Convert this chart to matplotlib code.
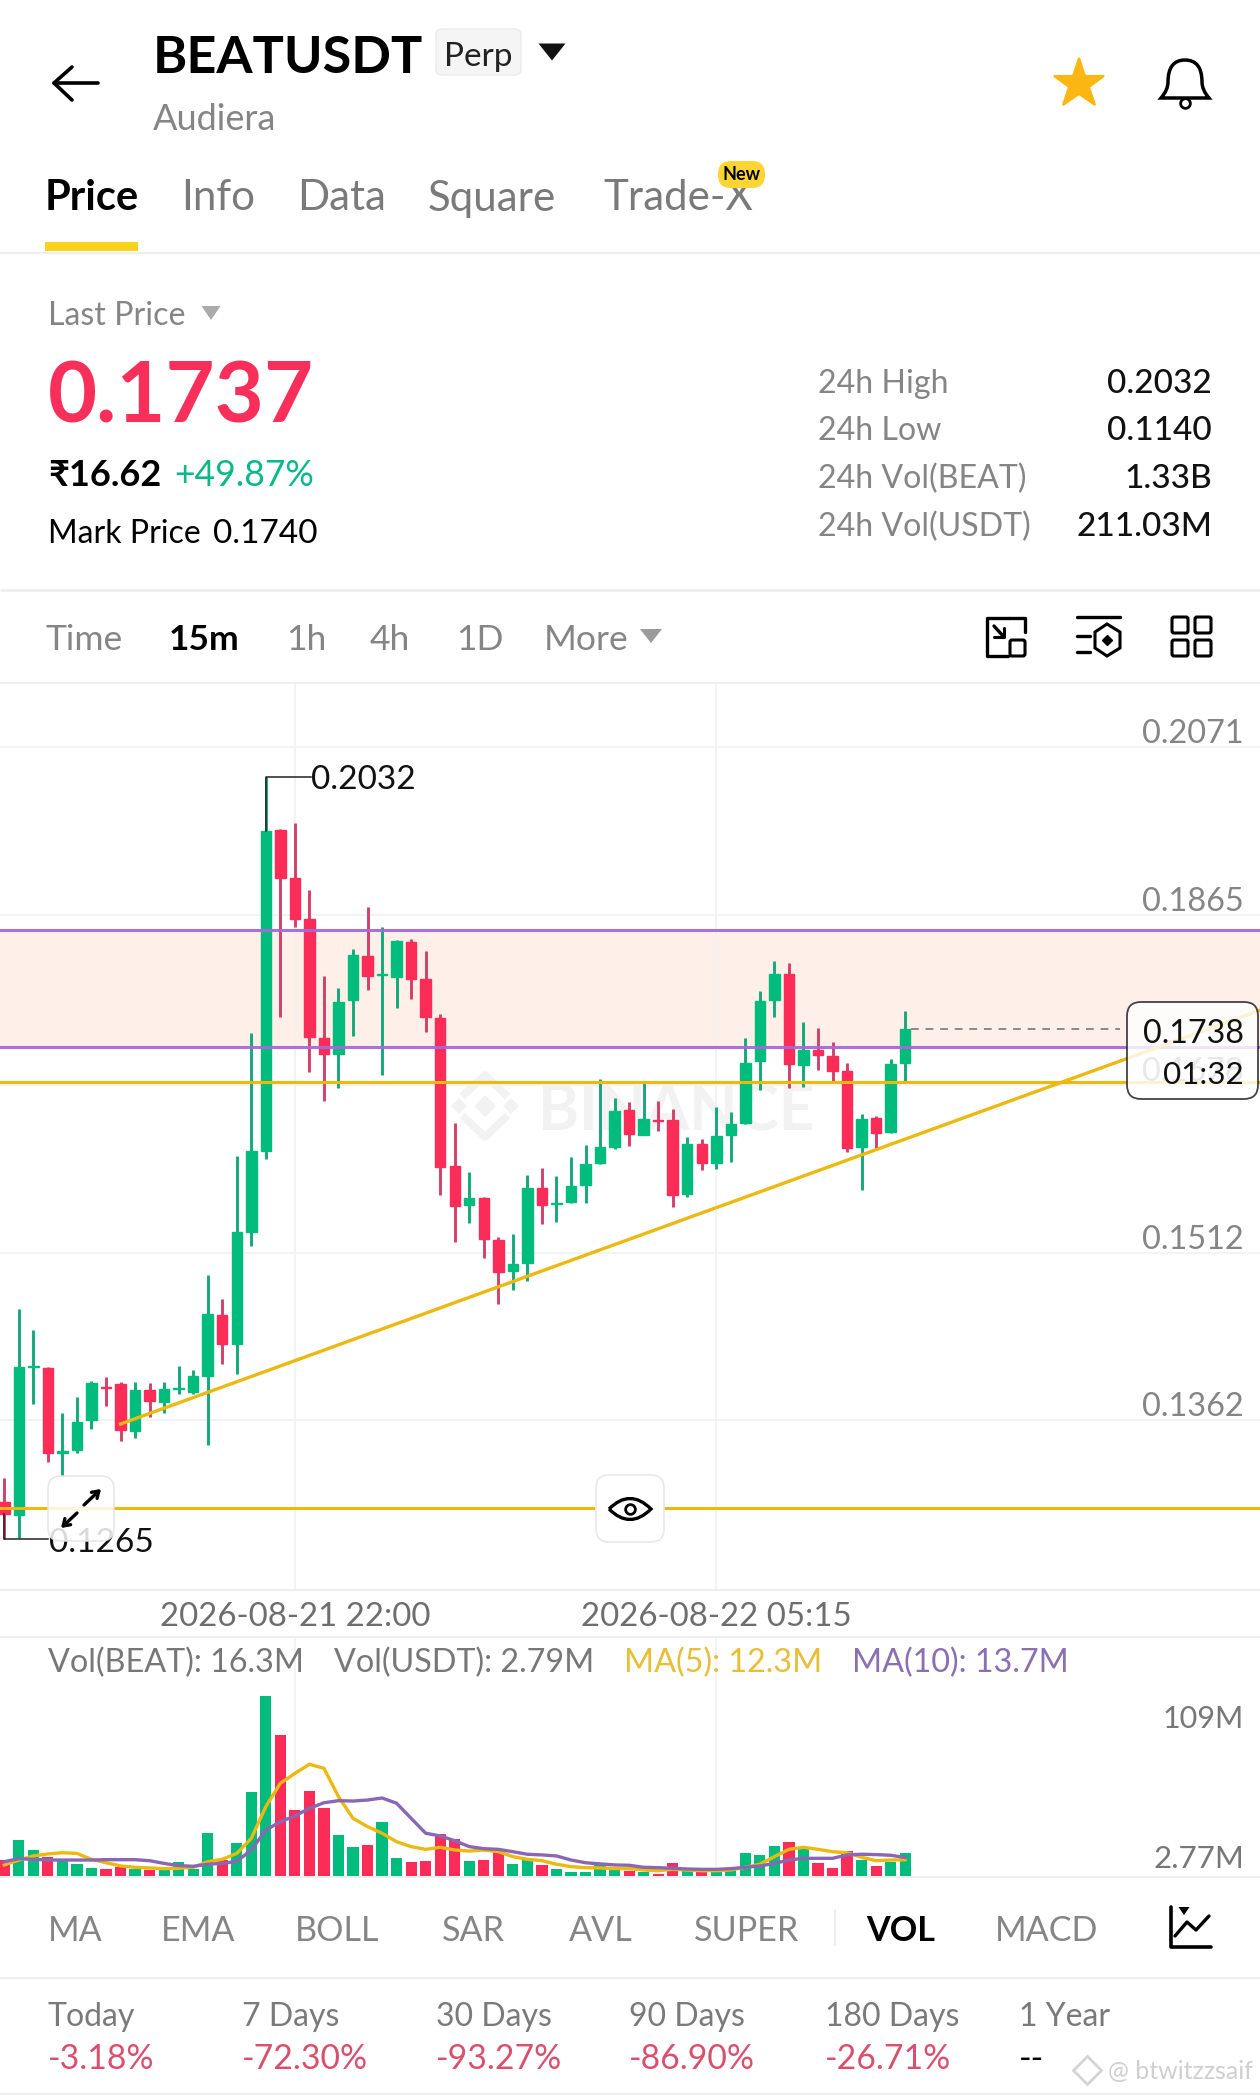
import matplotlib
matplotlib.use("Agg")
import matplotlib.pyplot as plt
from matplotlib.patches import FancyBboxPatch, PathPatch, Polygon, Rectangle
from matplotlib.path import Path
from matplotlib.ticker import NullLocator

plt.rcParams['font.family'] = ['Lato', 'Noto Sans', 'DejaVu Sans']

W, H = 1260, 2096

GREEN = '#02BC7D'
RED = '#FB2C58'
GREEN_WICK = '#14A87D'
RED_WICK = '#D3416A'
GRID = '#F1F1F1'
DIVIDER = '#EEEEEE'
GREY = '#858585'
YELLOW = '#EBB90F'
PURPLE = '#A868D8'

# 15m candles
opens = [.1295, .1284, .1408, .1407, .1335, .1337, .1362, .1391, .1393, .1353,
         .1388, .1378, .1389, .1386, .1400, .1454, .1428, .1531, .1611, .1967,
         .1909, .1861, .1728, .1711, .1769, .1818, .1797, .1795, .1834, .1793,
         .1750, .1596, .1557, .1564, .1524, .1495, .1502, .1574, .1558, .1560,
         .1577, .1599, .1615, .1652, .1627, .1642, .1642, .1568, .1618, .1599,
         .1627, .1639, .1703, .1769, .1798, .1699, .1715, .1709, .1693, .1615,
         .1644, .1630, .1701]
closes = [.1285, .1408, .1409, .1335, .1336, .1361, .1394, .1390, .1354, .1388,
          .1379, .1389, .1390, .1400, .1455, .1428, .1531, .1611, .1966, .1909,
          .1861, .1729, .1711, .1767, .1819, .1796, .1798, .1835, .1793, .1751,
          .1595, .1556, .1564, .1525, .1494, .1501, .1574, .1557, .1559, .1576,
          .1598, .1615, .1651, .1628, .1643, .1641, .1567, .1618, .1599, .1626,
          .1638, .1701, .1768, .1798, .1700, .1715, .1710, .1693, .1614, .1643,
          .1629, .1700, .1738]
highs = [.1314, .1460, .1441, .1408, .1368, .1382, .1396, .1399, .1395, .1395,
         .1394, .1395, .1409, .1405, .1491, .1469, .1606, .1733, .2032, .1968,
         .1975, .1895, .1796, .1782, .1826, .1875, .1851, .1837, .1838, .1824,
         .1754, .1639, .1590, .1565, .1527, .1530, .1587, .1594, .1586, .1605,
         .1617, .1684, .1665, .1660, .1681, .1661, .1653, .1625, .1623, .1655,
         .1650, .1728, .1779, .1813, .1811, .1745, .1739, .1724, .1701, .1648,
         .1646, .1706, .1757]
lows = [.1265, .1266, .1376, .1327, .1315, .1335, .1355, .1374, .1345, .1347,
        .1365, .1368, .1385, .1385, .1341, .1411, .1402, .1518, .1603, .1751,
        .1852, .1692, .1661, .1675, .1730, .1780, .1689, .1760, .1770, .1734,
        .1567, .1522, .1540, .1507, .1464, .1477, .1485, .1539, .1541, .1559,
        .1559, .1598, .1613, .1616, .1627, .1631, .1555, .1565, .1592, .1593,
        .1600, .1638, .1673, .1751, .1675, .1676, .1694, .1681, .1610, .1572,
        .1614, .1629, .1681]

# volume, millions
volumes = [12.2, 23.8, 18.1, 14.2, 12.2, 9.9, 7.5, 6.7, 8.3, 7.1,
           6.3, 6.7, 11.2, 6.9, 28.0, 12.2, 22.4, 52.2, 109.1, 85.8,
           41.5, 53.1, 43.1, 26.8, 20.1, 21.1, 34.5, 13.6, 11.2, 11.4,
           27.5, 24.4, 11.6, 12.0, 17.1, 9.9, 12.2, 9.3, 6.7, 5.3,
           5.3, 9.7, 6.7, 5.9, 5.3, 3.8, 10.3, 5.7, 5.0, 5.9,
           6.7, 16.2, 15.2, 20.5, 23.0, 20.1, 10.3, 7.7, 17.7, 12.2,
           8.7, 11.2, 16.3]
ma5 = [9.3, 12.2, 14.6, 15.8, 16.5, 16.1, 12.6, 10.6, 8.7, 7.9,
       7.5, 7.1, 7.3, 7.9, 11.2, 12.6, 16.1, 25.0, 43.7, 57.5,
       63.3, 68.7, 66.3, 49.6, 36.8, 31.9, 28.0, 23.0, 20.1, 18.5,
       19.7, 18.1, 17.5, 18.1, 17.1, 14.2, 12.6, 11.8, 9.7, 8.3,
       7.7, 7.5, 7.1, 7.1, 6.3, 5.9, 6.7, 6.3, 5.9, 5.9,
       6.3, 7.9, 9.7, 14.2, 18.5, 19.7, 18.5, 17.1, 16.5, 13.8,
       11.8, 12.2, 12.3]
ma10 = [11.2, 13.0, 12.6, 12.2, 12.2, 12.2, 12.2, 12.4, 12.4, 12.4,
        11.8, 10.2, 8.9, 8.5, 9.7, 10.2, 11.4, 18.1, 29.9, 34.8,
        38.2, 42.7, 46.0, 47.2, 47.0, 47.6, 48.8, 45.7, 36.8, 28.0,
        26.4, 23.6, 20.1, 18.9, 18.5, 17.1, 15.6, 15.2, 14.6, 12.2,
        10.6, 9.9, 9.3, 9.1, 7.9, 7.7, 7.3, 6.9, 6.7, 6.7,
        7.1, 7.9, 8.7, 10.2, 12.2, 13.2, 13.2, 13.2, 15.2, 15.6,
        15.4, 15.0, 13.7]

price_ticks = [.2071, .1865, .1678, .1512, .1362]
price_labels = ['0.2071', '0.1865', '0.1678', '0.1512', '0.1362']
time_ticks = [20, 49]
time_labels = ['2026-08-21 22:00', '2026-08-22 05:15']

zone_levels = [.1848, .1718]
yellow_levels = [.1681, .1290]
trend_x = [8, 86.42]
trend_y = [.1359, .1758]
last_price = .1738

stat_names = ['24h High', '24h Low', '24h Vol(BEAT)', '24h Vol(USDT)']
stat_values = ['0.2032', '0.1140', '1.33B', '211.03M']
intervals = ['Time', '15m', '1h', '4h', '1D', 'More']
indicators = ['MA', 'EMA', 'BOLL', 'SAR', 'AVL', 'SUPER', 'VOL', 'MACD']
periods = ['Today', '7 Days', '30 Days', '90 Days', '180 Days', '1 Year']
period_changes = ['-3.18%', '-72.30%', '-93.27%', '-86.90%', '-26.71%', '--']


def pane(top, bottom):
    return [0, 1 - bottom / H, 1, (bottom - top) / H]


fig = plt.figure(figsize=(W / 100, H / 100), dpi=100, facecolor='white')

# watermark goes behind the transparent chart
back = fig.add_axes([0, 0, 1, 1], zorder=0)
back.set_xlim(0, W)
back.set_ylim(H, 0)
back.axis('off')
back.text(538, 1107, 'BINANCE', fontsize=45, fontweight='bold', color='#F2F2F2', va='center_baseline')
for mx, ms in [(485, 11), (459, 8), (511, 8)]:
    back.plot(mx, 1106, 'D', ms=ms, color='#F2F2F2', mew=0)
back.plot([465, 485, 505], [1094, 1075, 1094], color='#F2F2F2', lw=5.5)
back.plot([465, 485, 505], [1118, 1137, 1118], color='#F2F2F2', lw=5.5)

main = fig.add_axes(pane(683, 1589), zorder=1)
main.patch.set_alpha(0)
main.set_yscale('log')
main.set_xlim(-0.296, 86.42)
main.set_ylim(.12264, .2155)
main.yaxis.set_minor_locator(NullLocator())
main.set_yticks(price_ticks)
main.set_yticklabels([])
main.set_xticks(time_ticks)
main.set_xticklabels(time_labels, fontsize=23.8, color='#6E6E6E')
main.tick_params(length=0, pad=9.5)
main.grid(True, color=GRID, lw=1.2, zorder=0)
main.set_axisbelow(True)
for s in main.spines.values():
    s.set_visible(False)

for p, lab in zip(price_ticks, price_labels):
    main.annotate(lab, (1, p), xycoords=('axes fraction', 'data'), xytext=(-16, 16),
                  textcoords='offset pixels', ha='right', va='center_baseline',
                  fontsize=23.4, color=GREY)

main.axhspan(zone_levels[1], zone_levels[0], color='#FEF0E9', lw=0, zorder=0.5)

xs = list(range(len(opens)))
for i in xs:
    up = closes[i] >= opens[i]
    main.vlines(i, lows[i], highs[i], color=GREEN_WICK if up else RED_WICK, lw=2.1, zorder=2)
    lo, hi = min(opens[i], closes[i]), max(opens[i], closes[i])
    c = GREEN if up else RED
    main.bar(i, hi - lo, bottom=lo, width=0.72, color=c, edgecolor=c, lw=1, zorder=3)

for lev in zone_levels:
    main.axhline(lev, color=PURPLE, lw=2.2, zorder=4, alpha=0.95)
for lev in yellow_levels:
    main.axhline(lev, color=YELLOW, lw=2.2, zorder=4)
main.plot(trend_x, trend_y, color=YELLOW, lw=2.4, zorder=4)
main.plot([62.4, 76.8], [last_price, last_price], color='#8A8A8A', lw=1.4, ls=(0, (4, 3.5)), zorder=4)

# high / low callouts
main.plot([18, 18, 21.1], [.1966, .2032, .2032], color='#222222', lw=1.1, zorder=5)
main.text(21.1, .2032, '0.2032', fontsize=24, va='center_baseline', color='#111111', zorder=5)
main.plot([0, 0, 3.0], [.1285, .1265, .1265], color='#222222', lw=1.1, zorder=5)
main.text(3.1, .12645, '0.1265', fontsize=24, va='center_baseline', color='#111111', zorder=5)

vol = fig.add_axes(pane(1637, 1876), zorder=1)
vol.patch.set_alpha(0)
vol.set_xlim(-0.296, 86.42)
vol.set_ylim(2.77, 143.8)
vol.set_xticks(time_ticks)
vol.set_xticklabels([])
vol.set_yticks([])
vol.tick_params(length=0)
vol.grid(True, axis='x', color=GRID, lw=1.2)
vol.set_axisbelow(True)
for s in vol.spines.values():
    s.set_visible(False)
bar_colors = [GREEN if closes[i] >= opens[i] else RED for i in xs]
vol.bar(xs, volumes, width=0.77, color=bar_colors, zorder=2)
vol.plot(xs, ma5, color=YELLOW, lw=2.4, zorder=3, solid_joinstyle='round')
vol.plot(xs, ma10, color='#8B66B5', lw=2.4, zorder=3, solid_joinstyle='round')

# app chrome, in screen pixels
ui = fig.add_axes([0, 0, 1, 1], zorder=2)
ui.set_xlim(0, W)
ui.set_ylim(H, 0)
ui.axis('off')


def txt(x, y, s, size, color='black', weight='normal', ha='left'):
    ui.text(x, y, s, fontsize=size, color=color, fontweight=weight, ha=ha, va='center_baseline')


def hline(y, x0=0, x1=W, color=DIVIDER, lw=1.6):
    ui.plot([x0, x1], [y, y], color=color, lw=lw, solid_capstyle='butt')


def tri(cx, cy, w, h, color):
    ui.add_patch(Polygon([(cx - w / 2, cy - h / 2), (cx + w / 2, cy - h / 2), (cx, cy + h / 2)],
                         closed=True, color=color, lw=0))


def stroke(pts, lw=2.3, color='black'):
    xx, yy = zip(*pts)
    ui.plot(xx, yy, color=color, lw=lw, solid_capstyle='round', solid_joinstyle='round')


def rbox(x0, y0, x1, y1, r, fc='none', ec='black', lw=2.2, alpha=None, z=3):
    ui.add_patch(FancyBboxPatch((x0 + r, y0 + r), x1 - x0 - 2 * r, y1 - y0 - 2 * r,
                                boxstyle=f'round,pad={r}', fc=fc, ec=ec, lw=lw, alpha=alpha, zorder=z))


# header
stroke([(98, 83), (54, 83)], 2.6)
stroke([(72, 67), (54, 83), (72, 100)], 2.6)
txt(153, 54, 'BEATUSDT', 37.5, weight='bold')
rbox(436, 29, 521, 75, 6, fc='#F5F5F5', ec='#ECECEC', lw=1, z=1)
txt(478, 54, 'Perp', 24, color='#222222', ha='center')
tri(552, 52, 27, 17, '#111111')
txt(153, 117, 'Audiera', 26, color=GREY)
ui.plot(1079, 84, '*', ms=38, color='#FBB612', mew=1.5, mec='#FBB612')
bell = Path([(1185, 60), (1168, 60), (1168, 82), (1168, 90), (1161, 98), (1209, 98),
             (1202, 90), (1202, 82), (1202, 60), (1185, 60)],
            [Path.MOVETO, Path.CURVE3, Path.CURVE3, Path.CURVE3, Path.CURVE3, Path.LINETO,
             Path.CURVE3, Path.CURVE3, Path.CURVE3, Path.CURVE3])
ui.add_patch(PathPatch(bell, fc='none', ec='black', lw=2.5))
ui.plot(1185, 103, 'o', ms=7, mfc='white', mec='black', mew=2)

# tabs
txt(45, 195, 'Price', 30, weight='bold')
for x, s in [(181, 'Info'), (297, 'Data'), (428, 'Square'), (603, 'Trade-X')]:
    txt(x, 195, s, 30.3, color='#7A7A7A')
rbox(718, 161, 765, 188, 13, fc='#FCD535', ec='none', lw=0)
ui.text(741.5, 175, 'New', fontsize=13, fontweight='bold', ha='center', va='center', zorder=4)
ui.add_patch(Rectangle((45, 242), 93, 9, color='#F9D21B', lw=0))
hline(252.5)

# price block
txt(48, 313, 'Last Price', 23.1, color=GREY)
tri(211, 313, 19, 14, '#ABABAB')
txt(48, 391, '0.1737', 61, color='#F92F5B', weight='bold')
txt(48, 473, '₹16.62', 26, weight='bold')
txt(174, 473, '+49.87%', 25.6, color='#09B98A')
txt(48, 531, 'Mark Price', 23)
txt(213, 531, '0.1740', 24)
for y, n, v in zip([381, 428, 476, 524], stat_names, stat_values):
    txt(818, y, n, 23.1, color=GREY)
    txt(1212, y, v, 24, ha='right', color='#111111', weight='medium')
hline(589.5, lw=2)

# interval row
for x, s in zip([45, 169, 286, 370, 456, 544], intervals):
    txt(x, 637, s, 25.5, color='black' if s == '15m' else GREY, weight='bold' if s == '15m' else 'normal')
tri(651, 636, 22, 14, '#9A9A9A')
# toolbar icons
stroke([(1009, 618), (987, 618), (987, 656), (1008, 656)], 2.4)
stroke([(1009, 618), (1025, 618), (1025, 632)], 2.4)
rbox(1010, 640, 1025, 656, 2)
stroke([(994, 626), (1004, 637)], 2.4)
stroke([(994, 637), (1004, 637), (1004, 628)], 2.2)
stroke([(1077, 617), (1120, 617)], 2.4)
stroke([(1077, 636), (1090, 636)], 2.4)
stroke([(1077, 652), (1090, 652)], 2.4)
ui.add_patch(Polygon([(1107, 624), (1120, 632), (1120, 648), (1107, 656), (1095, 648), (1095, 632)],
                     closed=True, fc='none', ec='black', lw=2.2))
ui.plot(1107, 640, 'D', ms=5, color='black')
for x0 in [1172, 1195]:
    for y0 in [617, 640]:
        rbox(x0, y0, x0 + 16, y0 + 16, 2)
hline(683, lw=1.4)

# buttons over the chart
rbox(48, 1476, 114, 1541, 13, fc='white', ec='#E4E4E4', lw=1.2, alpha=0.85)
ui.annotate('', xy=(101, 1489), xytext=(84, 1505), zorder=4,
            arrowprops=dict(arrowstyle='->,head_length=0.45,head_width=0.3', lw=2.4, color='black', shrinkA=0, shrinkB=0))
ui.annotate('', xy=(61, 1528), xytext=(77, 1513), zorder=4,
            arrowprops=dict(arrowstyle='->,head_length=0.45,head_width=0.3', lw=2.4, color='black', shrinkA=0, shrinkB=0))
rbox(596, 1475, 664, 1542, 13, fc='white', ec='#E8E8E8', lw=1.2)
eye = Path([(609, 1509), (630, 1488), (651, 1509), (630, 1530), (609, 1509)],
           [Path.MOVETO, Path.CURVE3, Path.CURVE3, Path.CURVE3, Path.CURVE3])
ui.add_patch(PathPatch(eye, fc='none', ec='black', lw=2.4, zorder=4))
ui.plot(630, 1509, 'o', ms=7, mfc='white', mec='black', mew=2, zorder=4)

# countdown box
rbox(1127, 1002, 1258, 1099, 14, fc='white', ec='#1A1A1A', lw=1.3, alpha=0.82)
ui.text(1244, 1031, '0.1738', fontsize=23.2, ha='right', va='center_baseline', zorder=4, color='#111111')
ui.text(1244, 1073, '01:32', fontsize=22.6, ha='right', va='center_baseline', zorder=4, color='#111111')

hline(1589.5, lw=1.4)
hline(1637, lw=1.4)

# volume header
txt(48, 1660, 'Vol(BEAT): 16.3M', 23.3, color='#777777')
txt(334, 1660, 'Vol(USDT): 2.79M', 23.3, color='#777777')
txt(624, 1660, 'MA(5): 12.3M', 23.3, color='#E8BE35')
txt(852, 1660, 'MA(10): 13.7M', 23.3, color='#8A6FB3')
txt(1244, 1717, '109M', 22, color='#777777', ha='right')
txt(1244, 1857, '2.77M', 22.5, color='#777777', ha='right')
hline(1877, lw=1.4)

# indicator row
for x, s in zip([48, 161, 295, 442, 569, 694, 866, 995], indicators):
    txt(x, 1928, s, 24.6, color='black' if s == 'VOL' else GREY, weight='bold' if s == 'VOL' else 'normal')
ui.plot([835, 835], [1910, 1945], color=DIVIDER, lw=1.5)
stroke([(1171, 1907), (1171, 1947), (1211, 1947)], 2.6)
stroke([(1175, 1936), (1187, 1922), (1196, 1930), (1209, 1916)], 2.4)
tri(1184, 1911, 11, 8, 'black')
hline(1977.5)

# period returns
for x, s, v in zip([48, 242, 436, 629, 825, 1019], periods, period_changes):
    txt(x, 2014, s, 23, color='#7A7A7A')
    txt(x, 2056, v, 24.3, color='black' if v == '--' else '#D9506F')
hline(2093.5)

# repost watermark
ui.plot(1087, 2070, 'D', ms=14, mfc='none', mec='#D4D4D4', mew=2)
ui.text(1108, 2070, '@ btwitzzsaif', fontsize=18, color='#CFCFCF', va='center_baseline')

fig.savefig('out.png', dpi=100, facecolor='white')
